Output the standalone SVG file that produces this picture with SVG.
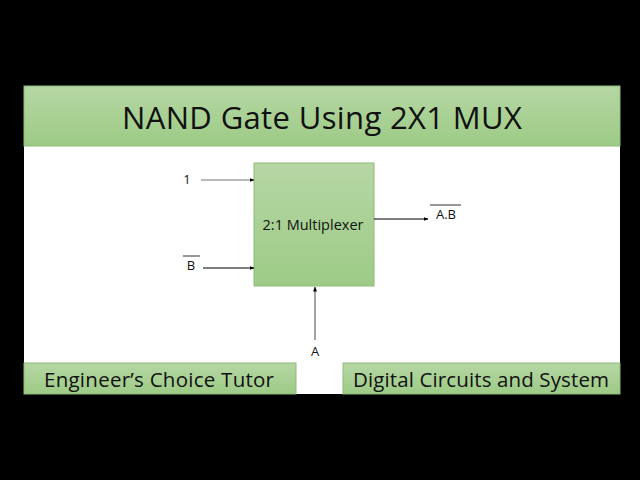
<svg xmlns="http://www.w3.org/2000/svg" width="640" height="480" viewBox="0 0 640 480">
<defs>
<linearGradient id="g" x1="0" y1="0" x2="0" y2="1">
<stop offset="0" stop-color="#b6d7a4"/>
<stop offset="1" stop-color="#9dcb86"/>
</linearGradient>
<marker id="ah" viewBox="0 0 10 10" refX="9" refY="5" markerWidth="5" markerHeight="5" orient="auto" markerUnits="userSpaceOnUse">
<path d="M0,1 L10,5 L0,9 z" fill="#000"/>
</marker>
<style>
.box{fill:url(#g);stroke:#8fb97b;stroke-width:1}
.t{font-family:"Open Sans","Liberation Sans",sans-serif;fill:#111}
.ln{stroke-width:1.2;fill:none;marker-end:url(#ah)}
</style>
</defs>
<rect x="0" y="0" width="640" height="480" fill="#000"/>
<rect x="24" y="86" width="596" height="308" fill="#fff"/>
<g id="title">
<rect class="box" x="24" y="86" width="596" height="60"/>
<text class="t" x="322" y="129" font-size="31" text-anchor="middle" textLength="400">NAND Gate Using 2X1 MUX</text>
</g>
<g id="mux">
<rect class="box" x="254" y="163" width="120" height="123"/>
<text class="t" x="313" y="230" font-size="14.5" text-anchor="middle">2:1 Multiplexer</text>
</g>
<g id="in1">
<text class="t" x="187" y="184" font-size="13" text-anchor="middle">1</text>
</g>
<g id="inB">
<text class="t" x="191" y="270" font-size="13" text-anchor="middle">B</text>
<line x1="183" y1="256" x2="200" y2="256" stroke="#333" stroke-width="1"/>
</g>
<g id="selA">
<text class="t" x="315" y="356" font-size="13" text-anchor="middle">A</text>
</g>
<g id="out">
<text class="t" x="446" y="219" font-size="13" text-anchor="middle">A.B</text>
<line x1="430" y1="205" x2="461" y2="205" stroke="#333" stroke-width="1"/>
</g>
<g id="footer-left">
<rect class="box" x="24" y="363" width="272" height="31"/>
<text class="t" x="159" y="387" font-size="20.5" text-anchor="middle" textLength="230">Engineer’s Choice Tutor</text>
</g>
<g id="footer-right">
<rect class="box" x="343" y="363" width="277" height="31"/>
<text class="t" x="481" y="387" font-size="20.5" text-anchor="middle" textLength="256">Digital Circuits and System</text>
</g>
<g id="connectors">
<line class="ln" x1="201" y1="180" x2="254" y2="180" stroke="#777"/>
<line class="ln" x1="203" y1="268" x2="254" y2="268" stroke="#000"/>
<line class="ln" x1="374" y1="219" x2="428" y2="219" stroke="#000"/>
<line class="ln" x1="315" y1="340" x2="315" y2="287" stroke="#666"/>
</g>
</svg>
